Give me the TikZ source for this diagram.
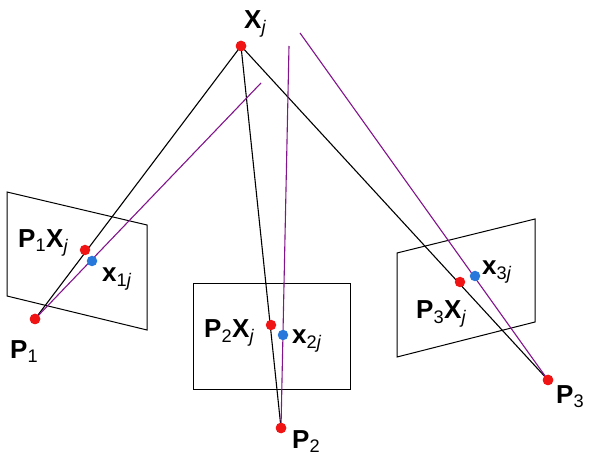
\documentclass[tikz,border=0pt]{standalone}
\usepackage{fontspec}
\setmainfont{Liberation Sans}
\definecolor{ptred}{RGB}{240,20,20}
\definecolor{ptblue}{RGB}{40,120,220}
\definecolor{raypurple}{RGB}{130,20,140}
\begin{document}
\begin{tikzpicture}[x=1pt,y=-1pt,
  reddot/.style={circle,fill=ptred,inner sep=0pt,minimum size=10.5pt},
  bluedot/.style={circle,fill=ptblue,inner sep=0pt,minimum size=10.5pt},
  lab/.style={inner sep=0pt,anchor=base west,font=\fontsize{26}{30}\selectfont},
  plane/.style={draw=black,line width=1pt},
  ray/.style={draw=black,line width=1.1pt},
  proj/.style={draw=raypurple,line width=1.1pt}]
\useasboundingbox (0,0) rectangle (592,462);
% image planes
\draw[plane] (7,192) -- (147,225) -- (147,330) -- (7,296) -- cycle;
\draw[plane] (193,284) rectangle (350,390);
\draw[plane] (397,253) -- (535,219) -- (535,322) -- (397,357) -- cycle;
% points
\node[reddot] (X) at (241,46) {};
\node[reddot] (P1) at (35,319) {};
\node[reddot] (P2) at (281,428) {};
\node[reddot] (P3) at (548,380) {};
\coordinate (e1) at (261,83);
\coordinate (e2) at (289,46);
\coordinate (e3) at (300,33);
% rays
\draw[ray] (X.center) -- (P1.center);
\draw[ray] (X.center) -- (P2.center);
\draw[ray] (X.center) -- (P3.center);
\draw[proj] (P1.center) -- (e1);
\draw[proj] (P2.center) -- (e2);
\draw[proj] (P3.center) -- (e3);
% projected points
\node[reddot] (r1) at (85,250) {};
\node[bluedot] (b1) at (92,261) {};
\node[reddot] (r2) at (271,325) {};
\node[bluedot] (b2) at (283,335) {};
\node[reddot] (r3) at (460,282) {};
\node[bluedot] (b3) at (475,276) {};
\node[reddot] at (X) {};
\node[reddot] at (P1) {};
\node[reddot] at (P2) {};
\node[reddot] at (P3) {};
% labels
\node[lab] (lX) at (244,29) {\textbf{X}\textsubscript{\itshape j}};
\node[lab] (lP1) at (10,359) {\textbf{P}\textsubscript{1}};
\node[lab] (lP2) at (292,448) {\textbf{P}\textsubscript{2}};
\node[lab] (lP3) at (556,403) {\textbf{P}\textsubscript{3}};
\node[lab] (lr1) at (18,248) {\textbf{P}\textsubscript{1}\textbf{X}\textsubscript{\itshape j}};
\node[lab] (lr2) at (204,338) {\textbf{P}\textsubscript{2}\textbf{X}\textsubscript{\itshape j}};
\node[lab] (lr3) at (416,319) {\textbf{P}\textsubscript{3}\textbf{X}\textsubscript{\itshape j}};
\node[lab] (lb1) at (102,282) {\textbf{x}\textsubscript{1\itshape j}};
\node[lab] (lb2) at (292,344) {\textbf{x}\textsubscript{2\itshape j}};
\node[lab] (lb3) at (482,275) {\textbf{x}\textsubscript{3\itshape j}};
\end{tikzpicture}
\end{document}
